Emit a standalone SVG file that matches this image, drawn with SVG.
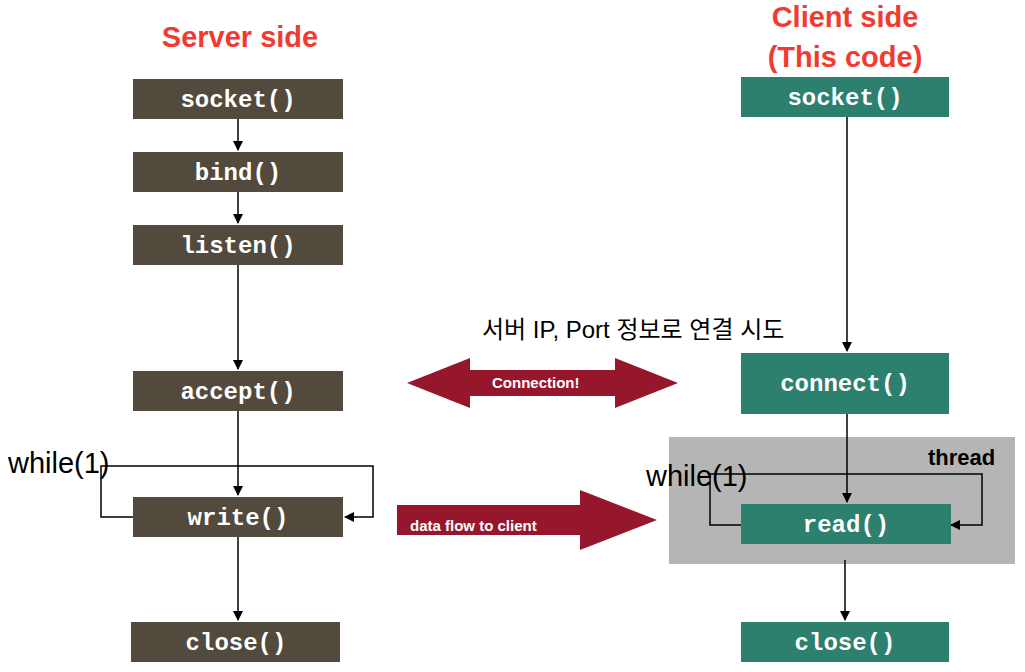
<svg xmlns="http://www.w3.org/2000/svg" width="1025" height="672" viewBox="0 0 1025 672">
<style>
.s{fill:#524a3c}.c{fill:#2d7f6e}
.bt{font-family:"Liberation Mono",monospace;font-weight:bold;font-size:24px;fill:#fff;text-anchor:middle}
.ln{stroke:#000;stroke-width:1.5;fill:none}
.h{font-family:"Liberation Sans",Arial,sans-serif;font-weight:bold;font-size:29px;fill:#f23b30;text-anchor:middle}
.w{font-family:"Liberation Sans","Noto Sans CJK KR",sans-serif;font-size:29px;fill:#000}
.at{font-family:"Liberation Sans",Arial,sans-serif;font-weight:bold;font-size:15px;fill:#fff}
</style>
<defs><marker id="a" markerWidth="10" markerHeight="10" refX="9" refY="5" orient="auto" markerUnits="userSpaceOnUse"><path d="M0,0L10,5L0,10z" fill="#000"/></marker></defs>
<rect id="thread" x="669" y="437" width="346" height="127" fill="#b5b5b5"/>
<text class="h" x="240" y="47">Server side</text>
<text class="h" x="845" y="27">Client side</text>
<text class="h" x="845" y="67">(This code)</text>
<text class="w" x="482" y="338" style="font-size:24px">서버 IP, Port 정보로 연결 시도</text>
<text class="w" x="928" y="465" style="font-size:22px;font-weight:bold">thread</text>
<g id="connectors">
<path class="ln" d="M238,119V150" marker-end="url(#a)"/>
<path class="ln" d="M238,192V223" marker-end="url(#a)"/>
<path class="ln" d="M238,265V369" marker-end="url(#a)"/>
<path class="ln" d="M238,411V495" marker-end="url(#a)"/>
<path class="ln" d="M238,537V620" marker-end="url(#a)"/>
<path class="ln" d="M133,517H101V466H373V517H345" marker-end="url(#a)"/>
<path class="ln" d="M847,117V351" marker-end="url(#a)"/>
<path class="ln" d="M847,414V502" marker-end="url(#a)"/>
<path class="ln" d="M845,560V620" marker-end="url(#a)"/>
<path class="ln" d="M741,525H710V474H982V525H951" marker-end="url(#a)"/>
<path d="M407,383L470,358V370H615V358L678,383L615,408V396H470V408z" fill="#96172b"/>
<path d="M397,505H580V490L657,520L580,550V535H397z" fill="#96172b"/>
<text class="at" x="492" y="388">Connection!</text>
<text class="at" x="410" y="531">data flow to client</text>
</g>
<g id="s_socket"><rect class="s" x="133" y="79" width="210" height="40"/><text class="bt" x="238" y="107">socket()</text></g>
<g id="s_bind"><rect class="s" x="133" y="152" width="210" height="40"/><text class="bt" x="238" y="180">bind()</text></g>
<g id="s_listen"><rect class="s" x="133" y="225" width="210" height="40"/><text class="bt" x="238" y="253">listen()</text></g>
<g id="s_accept"><rect class="s" x="133" y="371" width="210" height="40"/><text class="bt" x="238" y="399">accept()</text></g>
<g id="s_write"><rect class="s" x="133" y="497" width="210" height="40"/><text class="bt" x="238" y="525">write()</text></g>
<g id="s_close"><rect class="s" x="131" y="622" width="209" height="40"/><text class="bt" x="236" y="650">close()</text></g>
<g id="c_socket"><rect class="c" x="741" y="77" width="208" height="40"/><text class="bt" x="845" y="105">socket()</text></g>
<g id="c_connect"><rect class="c" x="741" y="353" width="208" height="61"/><text class="bt" x="845" y="391">connect()</text></g>
<g id="c_read"><rect class="c" x="741" y="504" width="210" height="40"/><text class="bt" x="846" y="532">read()</text></g>
<g id="c_close"><rect class="c" x="741" y="622" width="208" height="40"/><text class="bt" x="845" y="650">close()</text></g>
<text class="w" x="8" y="473">while(1)</text>
<text class="w" x="646" y="486">while(1)</text>
</svg>
